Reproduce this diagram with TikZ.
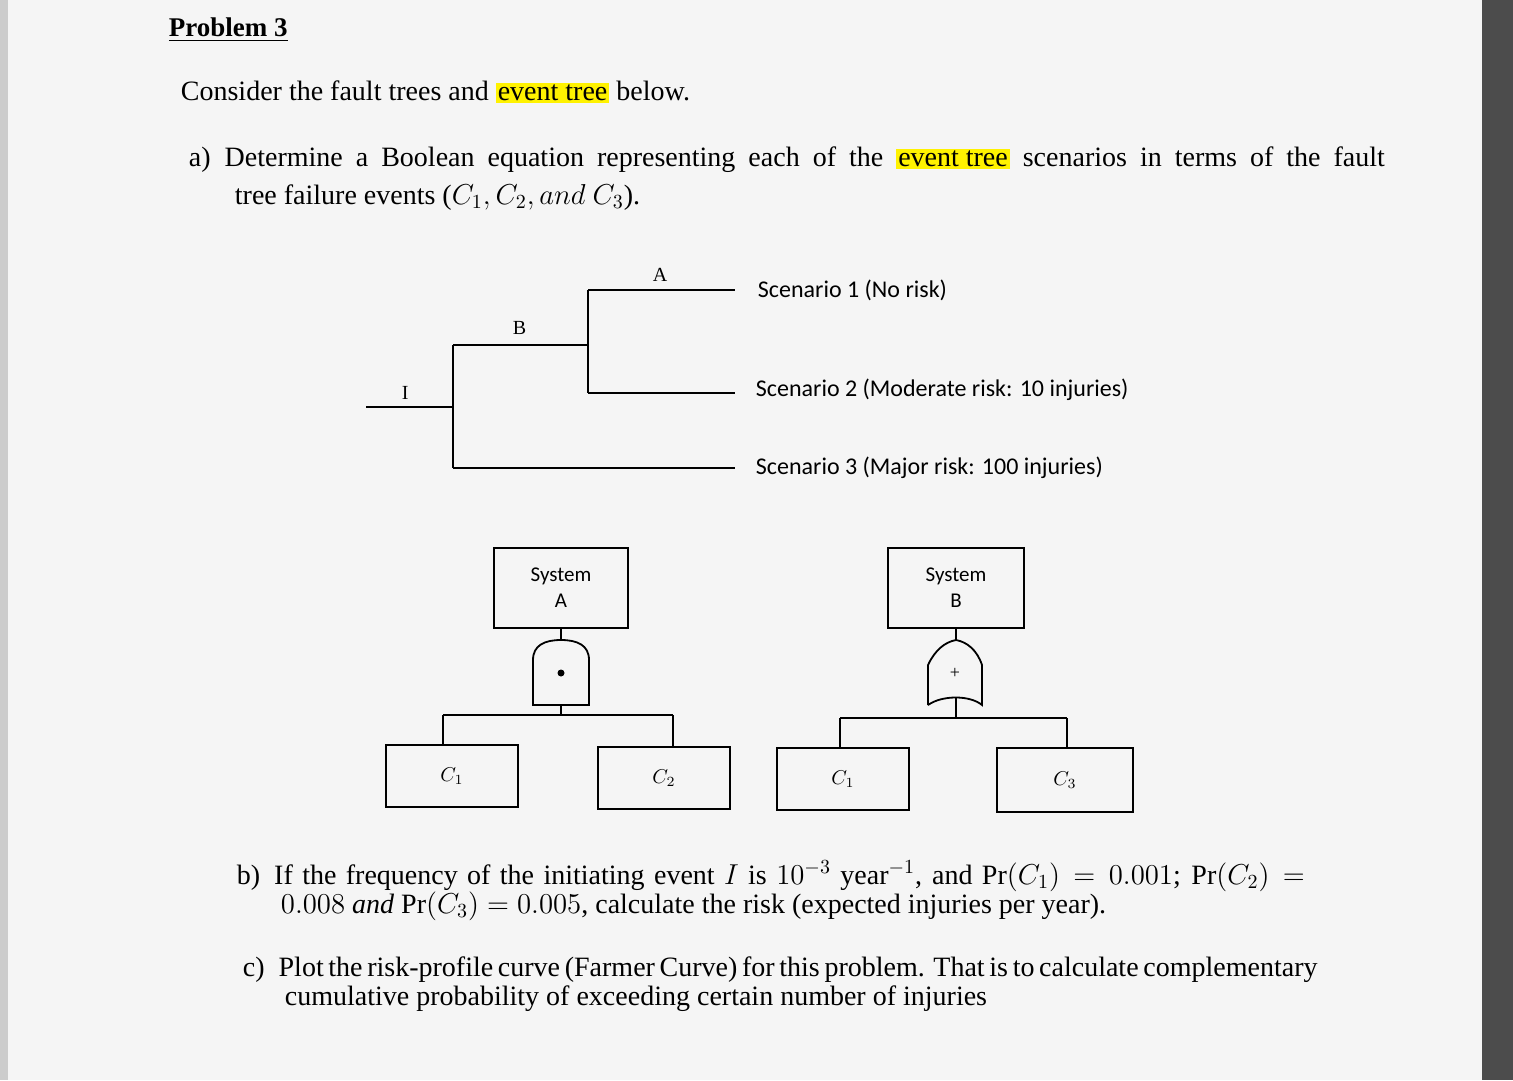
\documentclass[tikz,border=0pt]{standalone}
\usepackage{fontspec}
\usepackage{amsmath}
\setmainfont{Liberation Serif}
\newfontfamily\calfnt{Carlito}
\setlength{\fboxsep}{1pt}
\begin{document}
\begin{tikzpicture}[x=0.5pt,y=-0.5pt,line width=0.9pt,
  txt/.style={anchor=west,inner sep=0pt,font=\fontsize{14}{16}\selectfont},
  lab/.style={anchor=west,inner sep=0pt,font=\calfnt\fontsize{12}{14}\selectfont},
  tl/.style={anchor=west,inner sep=0pt,font=\fontsize{10}{12}\selectfont},
  bx/.style={draw,line width=0.9pt}]
\useasboundingbox (0,0) rectangle (1513,1080);
\fill[gray!8] (0,0) rectangle (1513,1080);
\fill[gray!60!black] (1482,0) rectangle (1513,1080);
\fill[gray!40] (0,0) rectangle (8,1080);
\node[txt,font=\fontsize{13.5}{15}\selectfont\bfseries] (p) at (168,30) {\underline{Problem 3}};
\node[txt] (t1) at (180,92) {Consider the fault trees and \colorbox{yellow}{event tree} below.};
\node[txt] (t2) at (188,160) {\makebox[598pt][s]{a)\enspace Determine a Boolean equation representing each of the \colorbox{yellow}{event tree} scenarios in terms of the fault}};
\node[txt] (t3) at (234,197) {tree failure events ($C_1, C_2, and\ C_3$).};
% event tree
\coordinate (i0) at (366,407); \coordinate (i1) at (453,407);
\draw (i0) -- (i1);
\draw (453,345) -- (453,468);
\draw (453,345) -- (588,345);
\draw (588,290) -- (588,393);
\draw (588,290) -- (735,290);
\draw (588,393) -- (735,393);
\draw (453,468) -- (735,468);
\node[tl] (lI) at (401,393) {I};
\node[tl] (lB) at (512,328) {B};
\node[tl] (lA) at (652,275) {A};
\node[lab] (s1) at (757,290) {Scenario 1 (No risk)};
\node[lab] (s2) at (755,390) {Scenario 2 (Moderate risk: 10 injuries)};
\node[lab] (s3) at (755,468) {Scenario 3 (Major risk: 100 injuries)};
% fault tree A
\node[bx,minimum width=67pt,minimum height=40pt,font=\calfnt\fontsize{10.5}{13}\selectfont,align=center] (sa) at (561,588) {System\\A};
\draw (561,628) -- (561,640);
\draw (533,705) -- (533,660) .. controls (533,645) and (545,640) .. (561,640) .. controls (577,640) and (589,645) .. (589,660) -- (589,705) -- cycle;
\fill (561,673) circle (3.5);
\draw (561,705) -- (561,715);
\draw (443,715) -- (673,715);
\draw (443,715) -- (443,745);
\draw (673,715) -- (673,747);
\node[bx,minimum width=66pt,minimum height=31pt] (ca1) at (452,776) {$C_1$};
\node[bx,minimum width=66pt,minimum height=31pt] (ca2) at (664,778) {$C_2$};
% fault tree B
\node[bx,minimum width=68pt,minimum height=40pt,font=\calfnt\fontsize{10.5}{13}\selectfont,align=center] (sb) at (956,588) {System\\B};
\draw (956,628) -- (956,640);
\draw (928,705) -- (928,665) .. controls (935,650) and (945,642) .. (956,640) .. controls (967,642) and (977,650) .. (982,665) -- (982,705) .. controls (970,695) and (942,695) .. (928,705);
\node[font=\small] (plus) at (955,673) {+};
\draw (956,698) -- (956,718);
\draw (840,718) -- (1067,718);
\draw (840,718) -- (840,748);
\draw (1067,718) -- (1067,748);
\node[bx,minimum width=66pt,minimum height=31pt] (cb1) at (843,779) {$C_1$};
\node[bx,minimum width=68pt,minimum height=32pt] (cb3) at (1065,780) {$C_3$};
% questions
\node[txt] (b1) at (236,876) {\makebox[534pt][s]{b)\enspace If the frequency of the initiating event $I$ is $10^{-3}$ year$^{-1}$, and $\Pr(C_1)=0.001$; $\Pr(C_2)=$}};
\node[txt] (b2) at (280,906) {$0.008$ \textit{and} $\Pr(C_3)=0.005$, calculate the risk (expected injuries per year).};
\node[txt] (c1) at (242,970) {\makebox[531pt][s]{c)\enspace Plot the risk-profile curve (Farmer Curve) for this problem. That is to calculate complementary}};
\node[txt] (c2) at (284,999) {cumulative probability of exceeding certain number of injuries};
\end{tikzpicture}
\end{document}
